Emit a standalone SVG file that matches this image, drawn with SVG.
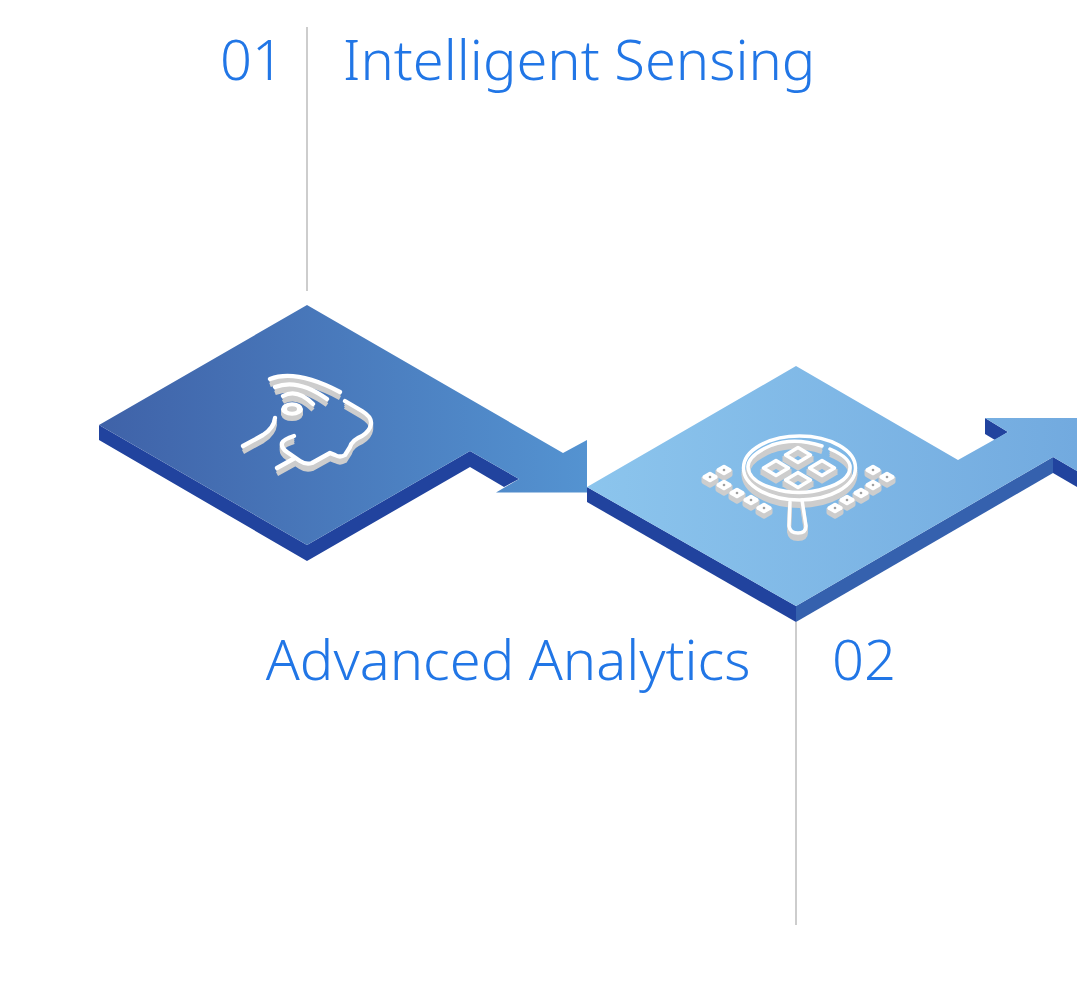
<svg xmlns="http://www.w3.org/2000/svg" width="1080" height="1000" viewBox="0 0 1080 1000">
<style>
.t{font-family:"Noto Sans","Open Sans",sans-serif;font-weight:300;font-size:56px;fill:#2176e6}
.l{stroke:#bcbcbc;stroke-width:1.500;fill:none}
.w{fill:none;stroke:#fff;stroke-width:4.300;stroke-linecap:round;stroke-linejoin:round}
.g{fill:none;stroke:#cdcdcd;stroke-width:4.300;stroke-linecap:butt;stroke-linejoin:round}
.sw{fill:#fff}.sg{fill:#cdcdcd}.d{fill:#a0a0a0}
</style>
<defs>
<linearGradient id="a" gradientUnits="userSpaceOnUse" x1="99" y1="0" x2="587" y2="0"><stop offset="0" stop-color="#3f62a8"/><stop offset="1" stop-color="#5493d1"/></linearGradient>
<linearGradient id="b" gradientUnits="userSpaceOnUse" x1="587" y1="0" x2="1077" y2="0"><stop offset="0" stop-color="#8cc5ed"/><stop offset="1" stop-color="#72aadf"/></linearGradient>
<g id="s"><path class="sg" d="M-8.500 0V5Q-8.500 6-7 7L-1 10.500Q0 11 1 10.500L7 7Q8.500 6 8.500 5V0Z"/><path class="sw" d="M-1-5Q0-5.500 1-5L7-1.500Q8.500 0 7 1.500L1 5Q0 5.500-1 5L-7 1.500Q-8.500 0-7-1.500Z"/><circle class="d" r="1.300"/></g>
<path id="i1" d="M270 379Q296 369 340 392M275 387Q298 378 327 399M283 396Q297 388 313 404M345 401L362 411Q372 417 371 424Q370 431 362 436Q352 440 350 447L345 455Q340 458 335 455L330 453L312 463Q306 465 300 461L287 452Q281 448 282 443Q284 439 294 436M277 468L295 458M243 446L263 435Q274 428 275 418"/>
<path id="ob" fill="none" d="M743.500 468A56 32 0 0 0 855.500 468"/>
<g id="i2" fill="none">
<path d="M830 449Q851 458 850 468Q849 481 826 488Q799 497 772 488Q749 481 748 467Q748 455 772 445Q795 437 822 446"/>
<path d="M790 502L789 526Q790 533 798 533Q806 533 806 526L802 500"/>
<path d="M798 447.500L810.500 455L798 462.500L785.500 455Z"/>
<path d="M776 460.500L788.500 468L776 475.500L763.500 468Z"/>
<path d="M822 460.500L834.500 468L822 475.500L809.500 468Z"/>
<path d="M798 472.500L810.500 480L798 487.500L785.500 480Z"/>
</g>
</defs>
<g id="connectors">
<path class="l" d="M307 27V291"/>
<path class="l" d="M796 622V925"/>
</g>
<g id="node-01">
<path fill="#21439e" d="M99 425V440L307 561L470 467L504 487L519 479L470 451L307 545Z"/>
<path fill="url(#a)" d="M307 305L563 453L587 440V492.500H496L519 479L470 451L307 545L99 425Z"/>
<g id="icon-01">
<use href="#i1" class="g" transform="translate(0 2)"/>
<use href="#i1" class="g" transform="translate(0 4)"/>
<use href="#i1" class="g" transform="translate(0 6)"/>
<use href="#i1" class="w"/>
<path class="sg" d="M281 409V415Q283 421 292 421Q301 421 303 415V409Z"/>
<ellipse class="sw" cx="292" cy="409" rx="11" ry="6.800"/>
<ellipse class="sg" cx="292" cy="409" rx="5" ry="2.800"/>
</g>
<text class="t" x="220" y="80">01</text>
<text class="t" x="343" y="80">Intelligent Sensing</text>
</g>
<g id="node-02">
<path fill="#21439e" d="M587 487V502L796 622V606Z"/>
<path fill="#3561ae" d="M796 606V622L1053 473V457Z"/>
<path fill="#21439e" d="M1053 457V473L1077 487V471Z"/>
<path fill="#21439e" d="M985 418V434L995 440L1008 432Z"/>
<path fill="url(#b)" d="M587 487L796 366L958 460L1008 432L985 418H1077V471L1053 457L796 606Z"/>
<g id="icon-02">
<use href="#ob" stroke="#cdcdcd" stroke-width="4" transform="translate(0 2)"/>
<use href="#ob" stroke="#cdcdcd" stroke-width="4" transform="translate(0 4)"/>
<use href="#ob" stroke="#cdcdcd" stroke-width="4" transform="translate(0 6)"/>
<use href="#i2" stroke="#cdcdcd" stroke-width="4" transform="translate(0 2)"/>
<use href="#i2" stroke="#cdcdcd" stroke-width="4" transform="translate(0 4)"/>
<use href="#i2" stroke="#cdcdcd" stroke-width="4" transform="translate(0 6)"/>
<ellipse cx="799.500" cy="468" rx="56" ry="32" fill="none" stroke="#fff" stroke-width="3.500"/>
<use href="#i2" stroke="#fff" stroke-width="3.500" stroke-linecap="round" stroke-linejoin="round"/>
<use href="#s" x="724" y="470"/><use href="#s" x="710" y="477"/><use href="#s" x="724" y="485"/><use href="#s" x="737" y="493"/><use href="#s" x="751" y="500"/><use href="#s" x="764" y="508"/>
<use href="#s" x="873" y="470"/><use href="#s" x="887" y="477"/><use href="#s" x="873" y="485"/><use href="#s" x="861" y="493"/><use href="#s" x="847" y="500"/><use href="#s" x="835" y="508"/>
</g>
<text class="t" x="750.500" y="680" text-anchor="end">Advanced Analytics</text>
<text class="t" x="832" y="680">02</text>
</g>
</svg>
